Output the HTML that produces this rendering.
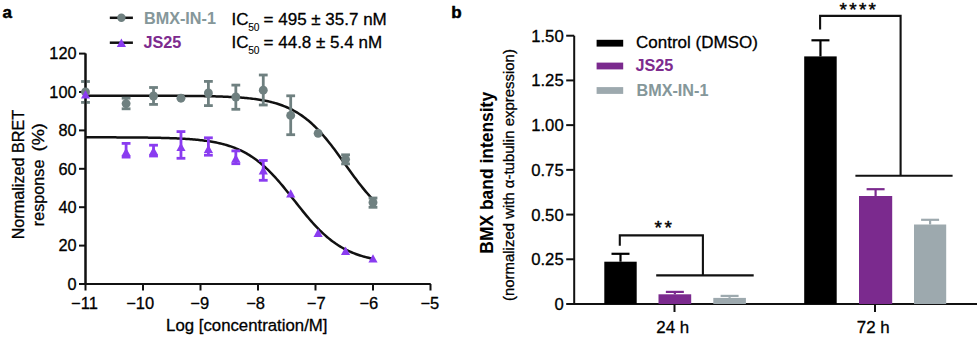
<!DOCTYPE html>
<html><head><meta charset="utf-8"><style>
html,body{margin:0;padding:0;background:#fff;width:980px;height:337px;overflow:hidden}
svg{display:block}
text{font-family:"Liberation Sans", sans-serif;stroke-linejoin:round;fill:#000;stroke:#000;stroke-width:0.3px} text.g{fill:#85979a;stroke:#85979a;stroke-width:0.05px} text.p{fill:#7d2a8e;stroke:#7d2a8e;stroke-width:0.05px} text.nb{stroke-width:0.1px} text.ast{stroke-width:0.45px} text.ab{stroke-width:0.5px}
</style></head><body>
<svg width="980" height="337" viewBox="0 0 980 337">
<rect width="980" height="337" fill="#fff"/>
<path d="M85.50 53.60 V284.00 H430.50" fill="none" stroke="#111" stroke-width="2"/>
<line x1="79.00" y1="284.00" x2="85.50" y2="284.00" stroke="#111" stroke-width="2"/>
<text x="76.50" y="289.80" text-anchor="end" font-size="16.3">0</text>
<line x1="79.00" y1="245.60" x2="85.50" y2="245.60" stroke="#111" stroke-width="2"/>
<text x="76.50" y="251.40" text-anchor="end" font-size="16.3">20</text>
<line x1="79.00" y1="207.20" x2="85.50" y2="207.20" stroke="#111" stroke-width="2"/>
<text x="76.50" y="213.00" text-anchor="end" font-size="16.3">40</text>
<line x1="79.00" y1="168.80" x2="85.50" y2="168.80" stroke="#111" stroke-width="2"/>
<text x="76.50" y="174.60" text-anchor="end" font-size="16.3">60</text>
<line x1="79.00" y1="130.40" x2="85.50" y2="130.40" stroke="#111" stroke-width="2"/>
<text x="76.50" y="136.20" text-anchor="end" font-size="16.3">80</text>
<line x1="79.00" y1="92.00" x2="85.50" y2="92.00" stroke="#111" stroke-width="2"/>
<text x="76.50" y="97.80" text-anchor="end" font-size="16.3">100</text>
<line x1="79.00" y1="53.60" x2="85.50" y2="53.60" stroke="#111" stroke-width="2"/>
<text x="76.50" y="59.40" text-anchor="end" font-size="16.3">120</text>
<line x1="85.50" y1="284.00" x2="85.50" y2="290.50" stroke="#111" stroke-width="2"/>
<text x="84.50" y="309.00" text-anchor="middle" font-size="16.5">−11</text>
<line x1="143.00" y1="284.00" x2="143.00" y2="290.50" stroke="#111" stroke-width="2"/>
<text x="140.20" y="309.00" text-anchor="middle" font-size="16.5">−10</text>
<line x1="200.50" y1="284.00" x2="200.50" y2="290.50" stroke="#111" stroke-width="2"/>
<text x="199.70" y="309.00" text-anchor="middle" font-size="16.5">−9</text>
<line x1="258.00" y1="284.00" x2="258.00" y2="290.50" stroke="#111" stroke-width="2"/>
<text x="255.60" y="309.00" text-anchor="middle" font-size="16.5">−8</text>
<line x1="315.50" y1="284.00" x2="315.50" y2="290.50" stroke="#111" stroke-width="2"/>
<text x="316.20" y="309.00" text-anchor="middle" font-size="16.5">−7</text>
<line x1="373.00" y1="284.00" x2="373.00" y2="290.50" stroke="#111" stroke-width="2"/>
<text x="368.80" y="309.00" text-anchor="middle" font-size="16.5">−6</text>
<line x1="430.50" y1="284.00" x2="430.50" y2="290.50" stroke="#111" stroke-width="2"/>
<text x="429.90" y="309.00" text-anchor="middle" font-size="16.5">−5</text>
<text x="246.8" y="330.8" text-anchor="middle" font-size="16.8">Log [concentration/M]</text>
<text transform="translate(23.7,174.6) rotate(-90)" text-anchor="middle" font-size="16.2">Normalized BRET</text>
<text transform="translate(43.8,226.2) rotate(-90)" font-size="16.2">response</text>
<text transform="translate(43.8,151.4) rotate(-90) scale(1.12,1)" font-size="16.2">(%)</text>
<text x="2.6" y="17.8" font-size="17" font-weight="bold" class="ab">a</text>
<path d="M85.50,95.69 L86.94,95.69 L88.38,95.69 L89.81,95.69 L91.25,95.69 L92.69,95.69 L94.13,95.69 L95.56,95.69 L97.00,95.69 L98.44,95.69 L99.88,95.69 L101.31,95.69 L102.75,95.69 L104.19,95.69 L105.62,95.69 L107.06,95.69 L108.50,95.70 L109.94,95.70 L111.37,95.70 L112.81,95.70 L114.25,95.70 L115.69,95.70 L117.13,95.70 L118.56,95.70 L120.00,95.70 L121.44,95.70 L122.88,95.70 L124.31,95.70 L125.75,95.70 L127.19,95.71 L128.62,95.71 L130.06,95.71 L131.50,95.71 L132.94,95.71 L134.37,95.71 L135.81,95.71 L137.25,95.71 L138.69,95.72 L140.12,95.72 L141.56,95.72 L143.00,95.72 L144.44,95.72 L145.88,95.73 L147.31,95.73 L148.75,95.73 L150.19,95.73 L151.62,95.74 L153.06,95.74 L154.50,95.74 L155.94,95.75 L157.38,95.75 L158.81,95.75 L160.25,95.76 L161.69,95.76 L163.12,95.77 L164.56,95.77 L166.00,95.78 L167.44,95.78 L168.87,95.79 L170.31,95.79 L171.75,95.80 L173.19,95.81 L174.63,95.82 L176.06,95.82 L177.50,95.83 L178.94,95.84 L180.38,95.85 L181.81,95.86 L183.25,95.87 L184.69,95.88 L186.12,95.89 L187.56,95.91 L189.00,95.92 L190.44,95.93 L191.88,95.95 L193.31,95.96 L194.75,95.98 L196.19,96.00 L197.62,96.02 L199.06,96.04 L200.50,96.06 L201.94,96.08 L203.38,96.10 L204.81,96.13 L206.25,96.16 L207.69,96.18 L209.12,96.21 L210.56,96.24 L212.00,96.28 L213.44,96.31 L214.88,96.35 L216.31,96.39 L217.75,96.43 L219.19,96.48 L220.62,96.53 L222.06,96.58 L223.50,96.63 L224.94,96.69 L226.37,96.75 L227.81,96.81 L229.25,96.88 L230.69,96.95 L232.13,97.03 L233.56,97.11 L235.00,97.19 L236.44,97.28 L237.88,97.38 L239.31,97.48 L240.75,97.58 L242.19,97.70 L243.62,97.82 L245.06,97.94 L246.50,98.08 L247.94,98.22 L249.37,98.37 L250.81,98.53 L252.25,98.70 L253.69,98.88 L255.12,99.06 L256.56,99.26 L258.00,99.47 L259.44,99.69 L260.88,99.93 L262.31,100.18 L263.75,100.44 L265.19,100.72 L266.62,101.01 L268.06,101.32 L269.50,101.64 L270.94,101.99 L272.38,102.35 L273.81,102.73 L275.25,103.14 L276.69,103.56 L278.12,104.01 L279.56,104.48 L281.00,104.97 L282.44,105.50 L283.88,106.04 L285.31,106.62 L286.75,107.23 L288.19,107.86 L289.62,108.53 L291.06,109.23 L292.50,109.96 L293.94,110.73 L295.38,111.54 L296.81,112.38 L298.25,113.26 L299.69,114.18 L301.12,115.14 L302.56,116.14 L304.00,117.18 L305.44,118.27 L306.88,119.40 L308.31,120.57 L309.75,121.79 L311.19,123.06 L312.62,124.37 L314.06,125.72 L315.50,127.12 L316.94,128.57 L318.38,130.06 L319.81,131.59 L321.25,133.17 L322.69,134.79 L324.12,136.45 L325.56,138.16 L327.00,139.90 L328.44,141.68 L329.88,143.49 L331.31,145.34 L332.75,147.21 L334.19,149.11 L335.62,151.04 L337.06,152.99 L338.50,154.96 L339.94,156.95 L341.38,158.95 L342.81,160.95 L344.25,162.97 L345.69,164.98 L347.12,167.00 L348.56,169.00 L350.00,171.01 L351.44,173.00 L352.88,174.97 L354.31,176.93 L355.75,178.87 L357.19,180.78 L358.62,182.66 L360.06,184.52 L361.50,186.35 L362.94,188.14 L364.37,189.89 L365.81,191.61 L367.25,193.29 L368.69,194.92 L370.12,196.52 L371.56,198.07 L373.00,199.57" fill="none" stroke="#111" stroke-width="2.5"/>
<path d="M85.50,137.30 L86.94,137.30 L88.38,137.31 L89.81,137.31 L91.25,137.31 L92.69,137.31 L94.13,137.32 L95.56,137.32 L97.00,137.32 L98.44,137.32 L99.88,137.33 L101.31,137.33 L102.75,137.33 L104.19,137.34 L105.62,137.34 L107.06,137.34 L108.50,137.35 L109.94,137.35 L111.37,137.36 L112.81,137.36 L114.25,137.37 L115.69,137.37 L117.13,137.38 L118.56,137.38 L120.00,137.39 L121.44,137.40 L122.88,137.40 L124.31,137.41 L125.75,137.42 L127.19,137.43 L128.62,137.44 L130.06,137.45 L131.50,137.46 L132.94,137.47 L134.37,137.48 L135.81,137.49 L137.25,137.51 L138.69,137.52 L140.12,137.54 L141.56,137.55 L143.00,137.57 L144.44,137.58 L145.88,137.60 L147.31,137.62 L148.75,137.64 L150.19,137.66 L151.62,137.69 L153.06,137.71 L154.50,137.74 L155.94,137.77 L157.38,137.79 L158.81,137.83 L160.25,137.86 L161.69,137.89 L163.12,137.93 L164.56,137.97 L166.00,138.01 L167.44,138.05 L168.87,138.10 L170.31,138.15 L171.75,138.20 L173.19,138.25 L174.63,138.31 L176.06,138.37 L177.50,138.43 L178.94,138.50 L180.38,138.58 L181.81,138.65 L183.25,138.73 L184.69,138.82 L186.12,138.91 L187.56,139.00 L189.00,139.10 L190.44,139.21 L191.88,139.32 L193.31,139.44 L194.75,139.57 L196.19,139.70 L197.62,139.84 L199.06,139.99 L200.50,140.15 L201.94,140.32 L203.38,140.49 L204.81,140.68 L206.25,140.87 L207.69,141.08 L209.12,141.30 L210.56,141.53 L212.00,141.77 L213.44,142.03 L214.88,142.30 L216.31,142.59 L217.75,142.89 L219.19,143.20 L220.62,143.54 L222.06,143.89 L223.50,144.26 L224.94,144.65 L226.37,145.06 L227.81,145.49 L229.25,145.95 L230.69,146.42 L232.13,146.92 L233.56,147.45 L235.00,148.00 L236.44,148.58 L237.88,149.19 L239.31,149.82 L240.75,150.49 L242.19,151.19 L243.62,151.92 L245.06,152.68 L246.50,153.47 L247.94,154.30 L249.37,155.17 L250.81,156.07 L252.25,157.01 L253.69,157.99 L255.12,159.01 L256.56,160.07 L258.00,161.16 L259.44,162.30 L260.88,163.48 L262.31,164.69 L263.75,165.95 L265.19,167.25 L266.62,168.58 L268.06,169.96 L269.50,171.38 L270.94,172.83 L272.38,174.32 L273.81,175.85 L275.25,177.41 L276.69,179.00 L278.12,180.63 L279.56,182.29 L281.00,183.97 L282.44,185.68 L283.88,187.42 L285.31,189.17 L286.75,190.94 L288.19,192.73 L289.62,194.53 L291.06,196.35 L292.50,198.16 L293.94,199.99 L295.38,201.81 L296.81,203.63 L298.25,205.45 L299.69,207.26 L301.12,209.06 L302.56,210.84 L304.00,212.61 L305.44,214.36 L306.88,216.08 L308.31,217.79 L309.75,219.46 L311.19,221.11 L312.62,222.73 L314.06,224.32 L315.50,225.87 L316.94,227.39 L318.38,228.87 L319.81,230.31 L321.25,231.72 L322.69,233.08 L324.12,234.41 L325.56,235.69 L327.00,236.94 L328.44,238.14 L329.88,239.31 L331.31,240.43 L332.75,241.52 L334.19,242.56 L335.62,243.57 L337.06,244.54 L338.50,245.47 L339.94,246.36 L341.38,247.22 L342.81,248.04 L344.25,248.83 L345.69,249.58 L347.12,250.30 L348.56,250.99 L350.00,251.64 L351.44,252.27 L352.88,252.87 L354.31,253.44 L355.75,253.99 L357.19,254.51 L358.62,255.00 L360.06,255.47 L361.50,255.92 L362.94,256.34 L364.37,256.75 L365.81,257.13 L367.25,257.50 L368.69,257.84 L370.12,258.17 L371.56,258.49 L373.00,258.78" fill="none" stroke="#111" stroke-width="2.5"/>
<line x1="85.50" y1="81.50" x2="85.50" y2="102.40" stroke="#6f8080" stroke-width="2.8"/><line x1="81.10" y1="81.50" x2="89.90" y2="81.50" stroke="#6f8080" stroke-width="2.8"/><line x1="81.10" y1="102.40" x2="89.90" y2="102.40" stroke="#6f8080" stroke-width="2.8"/>
<line x1="126.10" y1="98.20" x2="126.10" y2="108.80" stroke="#6f8080" stroke-width="2.8"/><line x1="121.70" y1="98.20" x2="130.50" y2="98.20" stroke="#6f8080" stroke-width="2.8"/><line x1="121.70" y1="108.80" x2="130.50" y2="108.80" stroke="#6f8080" stroke-width="2.8"/>
<line x1="153.53" y1="87.50" x2="153.53" y2="104.40" stroke="#6f8080" stroke-width="2.8"/><line x1="149.13" y1="87.50" x2="157.93" y2="87.50" stroke="#6f8080" stroke-width="2.8"/><line x1="149.13" y1="104.40" x2="157.93" y2="104.40" stroke="#6f8080" stroke-width="2.8"/>
<line x1="208.40" y1="81.40" x2="208.40" y2="105.60" stroke="#6f8080" stroke-width="2.8"/><line x1="204.00" y1="81.40" x2="212.80" y2="81.40" stroke="#6f8080" stroke-width="2.8"/><line x1="204.00" y1="105.60" x2="212.80" y2="105.60" stroke="#6f8080" stroke-width="2.8"/>
<line x1="235.83" y1="85.10" x2="235.83" y2="109.30" stroke="#6f8080" stroke-width="2.8"/><line x1="231.43" y1="85.10" x2="240.23" y2="85.10" stroke="#6f8080" stroke-width="2.8"/><line x1="231.43" y1="109.30" x2="240.23" y2="109.30" stroke="#6f8080" stroke-width="2.8"/>
<line x1="263.27" y1="75.00" x2="263.27" y2="105.00" stroke="#6f8080" stroke-width="2.8"/><line x1="258.87" y1="75.00" x2="267.67" y2="75.00" stroke="#6f8080" stroke-width="2.8"/><line x1="258.87" y1="105.00" x2="267.67" y2="105.00" stroke="#6f8080" stroke-width="2.8"/>
<line x1="290.70" y1="95.80" x2="290.70" y2="134.70" stroke="#6f8080" stroke-width="2.8"/><line x1="286.30" y1="95.80" x2="295.10" y2="95.80" stroke="#6f8080" stroke-width="2.8"/><line x1="286.30" y1="134.70" x2="295.10" y2="134.70" stroke="#6f8080" stroke-width="2.8"/>
<line x1="345.57" y1="154.80" x2="345.57" y2="163.90" stroke="#6f8080" stroke-width="2.8"/><line x1="341.17" y1="154.80" x2="349.97" y2="154.80" stroke="#6f8080" stroke-width="2.8"/><line x1="341.17" y1="163.90" x2="349.97" y2="163.90" stroke="#6f8080" stroke-width="2.8"/>
<line x1="373.00" y1="198.00" x2="373.00" y2="207.30" stroke="#6f8080" stroke-width="2.8"/><line x1="368.60" y1="198.00" x2="377.40" y2="198.00" stroke="#6f8080" stroke-width="2.8"/><line x1="368.60" y1="207.30" x2="377.40" y2="207.30" stroke="#6f8080" stroke-width="2.8"/>
<line x1="126.10" y1="143.40" x2="126.10" y2="157.10" stroke="#8a3cf0" stroke-width="2.8"/><line x1="121.70" y1="143.40" x2="130.50" y2="143.40" stroke="#8a3cf0" stroke-width="2.8"/><line x1="121.70" y1="157.10" x2="130.50" y2="157.10" stroke="#8a3cf0" stroke-width="2.8"/>
<line x1="153.53" y1="145.20" x2="153.53" y2="156.00" stroke="#8a3cf0" stroke-width="2.8"/><line x1="149.13" y1="145.20" x2="157.93" y2="145.20" stroke="#8a3cf0" stroke-width="2.8"/><line x1="149.13" y1="156.00" x2="157.93" y2="156.00" stroke="#8a3cf0" stroke-width="2.8"/>
<line x1="180.97" y1="131.60" x2="180.97" y2="158.30" stroke="#8a3cf0" stroke-width="2.8"/><line x1="176.57" y1="131.60" x2="185.37" y2="131.60" stroke="#8a3cf0" stroke-width="2.8"/><line x1="176.57" y1="158.30" x2="185.37" y2="158.30" stroke="#8a3cf0" stroke-width="2.8"/>
<line x1="208.40" y1="137.80" x2="208.40" y2="155.20" stroke="#8a3cf0" stroke-width="2.8"/><line x1="204.00" y1="137.80" x2="212.80" y2="137.80" stroke="#8a3cf0" stroke-width="2.8"/><line x1="204.00" y1="155.20" x2="212.80" y2="155.20" stroke="#8a3cf0" stroke-width="2.8"/>
<line x1="235.83" y1="150.90" x2="235.83" y2="163.70" stroke="#8a3cf0" stroke-width="2.8"/><line x1="231.43" y1="150.90" x2="240.23" y2="150.90" stroke="#8a3cf0" stroke-width="2.8"/><line x1="231.43" y1="163.70" x2="240.23" y2="163.70" stroke="#8a3cf0" stroke-width="2.8"/>
<line x1="263.27" y1="160.50" x2="263.27" y2="180.30" stroke="#8a3cf0" stroke-width="2.8"/><line x1="258.87" y1="160.50" x2="267.67" y2="160.50" stroke="#8a3cf0" stroke-width="2.8"/><line x1="258.87" y1="180.30" x2="267.67" y2="180.30" stroke="#8a3cf0" stroke-width="2.8"/>
<path d="M85.50 53.60 V284.00 H430.50" fill="none" stroke="#111" stroke-width="2"/>
<circle cx="85.50" cy="91.90" r="4.45" fill="#6f8080"/>
<circle cx="126.10" cy="103.60" r="4.45" fill="#6f8080"/>
<circle cx="153.53" cy="96.00" r="4.45" fill="#6f8080"/>
<circle cx="180.97" cy="98.20" r="4.45" fill="#6f8080"/>
<circle cx="208.40" cy="93.00" r="4.45" fill="#6f8080"/>
<circle cx="235.83" cy="97.00" r="4.45" fill="#6f8080"/>
<circle cx="263.27" cy="90.20" r="4.45" fill="#6f8080"/>
<circle cx="290.70" cy="115.40" r="4.45" fill="#6f8080"/>
<circle cx="318.13" cy="133.30" r="4.45" fill="#6f8080"/>
<circle cx="345.57" cy="159.30" r="4.45" fill="#6f8080"/>
<circle cx="373.00" cy="202.50" r="4.45" fill="#6f8080"/>
<path d="M85.50 90.20 L90.10 98.50 L80.90 98.50 Z" fill="#8a3cf0"/>
<path d="M126.10 147.70 L130.70 156.00 L121.50 156.00 Z" fill="#8a3cf0"/>
<path d="M153.53 146.70 L158.13 155.00 L148.93 155.00 Z" fill="#8a3cf0"/>
<path d="M180.97 142.70 L185.57 151.00 L176.37 151.00 Z" fill="#8a3cf0"/>
<path d="M208.40 144.70 L213.00 153.00 L203.80 153.00 Z" fill="#8a3cf0"/>
<path d="M235.83 154.10 L240.43 162.40 L231.23 162.40 Z" fill="#8a3cf0"/>
<path d="M263.27 166.10 L267.87 174.40 L258.67 174.40 Z" fill="#8a3cf0"/>
<path d="M290.70 189.20 L295.30 197.50 L286.10 197.50 Z" fill="#8a3cf0"/>
<path d="M318.13 228.60 L322.73 236.90 L313.53 236.90 Z" fill="#8a3cf0"/>
<path d="M345.57 246.60 L350.17 254.90 L340.97 254.90 Z" fill="#8a3cf0"/>
<path d="M373.00 254.20 L377.60 262.50 L368.40 262.50 Z" fill="#8a3cf0"/>
<line x1="109.8" y1="17.8" x2="132.9" y2="17.8" stroke="#111" stroke-width="2.5"/>
<circle cx="121.4" cy="17.8" r="4.2" fill="#6f8080"/>
<line x1="109.8" y1="42.7" x2="132.9" y2="42.7" stroke="#111" stroke-width="2.5"/>
<path d="M121.4 38.6 L126 47 L116.8 47 Z" fill="#8a3cf0"/>
<text x="144" y="24.3" font-size="16.2" font-weight="bold" class="g">BMX-IN-1</text>
<text x="143.5" y="48" font-size="16.2" font-weight="bold" class="p">JS25</text>
<text x="231.5" y="24.9" font-size="17">IC<tspan font-size="10.2" dy="6.2" dx="-0.3" style="stroke-width:0.12px">50</tspan><tspan dy="-6.2" dx="-0.7"> = 495 ± 35.7 nM</tspan></text>
<text x="231.5" y="47.9" font-size="17">IC<tspan font-size="10.2" dy="6.2" dx="-0.3" style="stroke-width:0.12px">50</tspan><tspan dy="-6.2" dx="-0.7"> = 44.8 ± 5.4 nM</tspan></text>
<path d="M574.2 35.70 V304.0 H977" fill="none" stroke="#111" stroke-width="2"/>
<line x1="566.20" y1="304.00" x2="574.2" y2="304.00" stroke="#111" stroke-width="2"/>
<text x="563.70" y="310.00" text-anchor="end" font-size="16.7">0</text>
<line x1="566.20" y1="259.28" x2="574.2" y2="259.28" stroke="#111" stroke-width="2"/>
<text x="563.70" y="265.28" text-anchor="end" font-size="16.7">0.25</text>
<line x1="566.20" y1="214.57" x2="574.2" y2="214.57" stroke="#111" stroke-width="2"/>
<text x="563.70" y="220.57" text-anchor="end" font-size="16.7">0.50</text>
<line x1="566.20" y1="169.85" x2="574.2" y2="169.85" stroke="#111" stroke-width="2"/>
<text x="563.70" y="175.85" text-anchor="end" font-size="16.7">0.75</text>
<line x1="566.20" y1="125.13" x2="574.2" y2="125.13" stroke="#111" stroke-width="2"/>
<text x="563.70" y="131.13" text-anchor="end" font-size="16.7">1.00</text>
<line x1="566.20" y1="80.42" x2="574.2" y2="80.42" stroke="#111" stroke-width="2"/>
<text x="563.70" y="86.42" text-anchor="end" font-size="16.7">1.25</text>
<line x1="566.20" y1="35.70" x2="574.2" y2="35.70" stroke="#111" stroke-width="2"/>
<text x="563.70" y="41.70" text-anchor="end" font-size="16.7">1.50</text>
<line x1="674.5" y1="304.0" x2="674.5" y2="312.0" stroke="#111" stroke-width="2"/>
<text x="672.8" y="333.2" text-anchor="middle" font-size="16.9">24 h</text>
<line x1="875" y1="304.0" x2="875" y2="312.0" stroke="#111" stroke-width="2"/>
<text x="873.3" y="333.2" text-anchor="middle" font-size="16.9">72 h</text>
<text transform="translate(492.8,172.8) rotate(-90)" text-anchor="middle" font-size="17.45" font-weight="bold" class="nb">BMX band intensity</text>
<text transform="translate(514,175.1) rotate(-90)" text-anchor="middle" font-size="14.95">(normalized with α-tubulin expression)</text>
<text x="451.2" y="17.8" font-size="17" font-weight="bold" class="ab">b</text>
<rect x="604.3" y="261.7" width="32.40" height="42.30" fill="#000"/>
<line x1="620.50" y1="253.80" x2="620.50" y2="261.7" stroke="#000" stroke-width="2.2"/>
<line x1="611.50" y1="253.80" x2="629.50" y2="253.80" stroke="#000" stroke-width="2.2"/>
<rect x="658.5" y="294.3" width="32.70" height="9.70" fill="#7b2a8e"/>
<line x1="674.85" y1="291.90" x2="674.85" y2="294.3" stroke="#7b2a8e" stroke-width="2.2"/>
<line x1="665.85" y1="291.90" x2="683.85" y2="291.90" stroke="#7b2a8e" stroke-width="2.2"/>
<rect x="713.3" y="297.9" width="32.60" height="6.10" fill="#9da9ae"/>
<line x1="729.60" y1="295.90" x2="729.60" y2="297.9" stroke="#9da9ae" stroke-width="2.2"/>
<line x1="720.60" y1="295.90" x2="738.60" y2="295.90" stroke="#9da9ae" stroke-width="2.2"/>
<rect x="804.2" y="56.4" width="32.50" height="247.60" fill="#000"/>
<line x1="820.45" y1="40.30" x2="820.45" y2="56.4" stroke="#000" stroke-width="2.2"/>
<line x1="811.45" y1="40.30" x2="829.45" y2="40.30" stroke="#000" stroke-width="2.2"/>
<rect x="859" y="196" width="33.20" height="108.00" fill="#7b2a8e"/>
<line x1="875.60" y1="189.20" x2="875.60" y2="196" stroke="#7b2a8e" stroke-width="2.2"/>
<line x1="866.60" y1="189.20" x2="884.60" y2="189.20" stroke="#7b2a8e" stroke-width="2.2"/>
<rect x="914" y="224.5" width="32.20" height="79.50" fill="#9da9ae"/>
<line x1="930.10" y1="219.80" x2="930.10" y2="224.5" stroke="#9da9ae" stroke-width="2.2"/>
<line x1="921.10" y1="219.80" x2="939.10" y2="219.80" stroke="#9da9ae" stroke-width="2.2"/>
<path d="M619.8 245.8 V235.4 H702.9 V275.4" fill="none" stroke="#111" stroke-width="2.1"/>
<line x1="656.2" y1="275.4" x2="753.7" y2="275.4" stroke="#111" stroke-width="2.1"/>
<text x="654.6" y="233.6" font-size="19" class="ast" letter-spacing="2.5">**</text>
<path d="M820.1 29.6 V15.9 H900.6 V175.7" fill="none" stroke="#111" stroke-width="2.1"/>
<line x1="855.4" y1="175.7" x2="952.6" y2="175.7" stroke="#111" stroke-width="2.1"/>
<text x="839.4" y="16.4" font-size="19" class="ast" letter-spacing="2.35">****</text>
<rect x="596.6" y="39.80" width="26.6" height="6.8" fill="#000"/>
<rect x="596.6" y="62.60" width="26.6" height="6.8" fill="#7b2a8e"/>
<rect x="596.6" y="87.10" width="26.6" height="6.8" fill="#9da9ae"/>
<text x="636" y="47.6" font-size="17">Control (DMSO)</text>
<text x="635.5" y="71.3" font-size="16.2" font-weight="bold" class="p">JS25</text>
<text x="636.5" y="95.5" font-size="16.2" font-weight="bold" class="g">BMX-IN-1</text>
</svg></body></html>
